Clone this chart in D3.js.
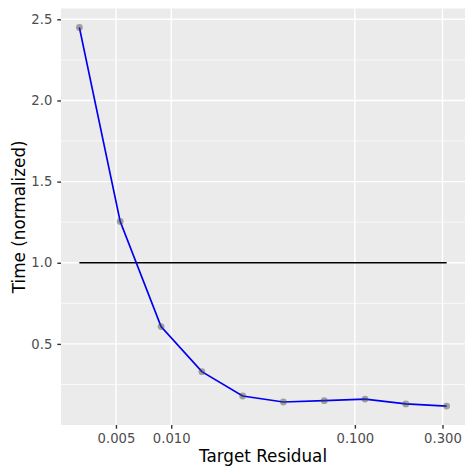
<!DOCTYPE html>
<html><head><meta charset="utf-8">
<script src="https://cdn.jsdelivr.net/npm/d3@7"></script>
<style>body{margin:0;background:#fff}svg{display:block}text{font-family:"DejaVu Sans",sans-serif}</style>
</head><body><svg id="c" width="474" height="474"></svg>
<script>
const residuals = [0.00316, 0.00527, 0.0088, 0.01468, 0.02448, 0.0408, 0.0681, 0.1136, 0.1894, 0.316];
const times = [2.45, 1.255, 0.607, 0.329, 0.179, 0.142, 0.150, 0.160, 0.130, 0.117];
const baseline = [1, 1];
const xTicks = [0.005, 0.010, 0.100, 0.300];
const xTickLabels = ["0.005", "0.010", "0.100", "0.300"];
const yTicks = [0.5, 1.0, 1.5, 2.0, 2.5];
const yMinor = [0.25, 0.75, 1.25, 1.75, 2.25];

const svg = d3.select("#c");
const L = 61, R = 465, T = 8.5, B = 425;
const lx = d3.extent(residuals).map(Math.log10);
const ex = (lx[1]-lx[0])*0.05;
const x = d3.scaleLog().domain([Math.pow(10, lx[0]-ex), Math.pow(10, lx[1]+ex)]).range([L, R]);
const ye = d3.extent(times); const ey = (ye[1]-ye[0])*0.05;
const y = d3.scaleLinear().domain([ye[0]-ey, ye[1]+ey]).range([B, T]);

svg.append("rect").attr("x", L).attr("y", T).attr("width", R-L).attr("height", B-T).attr("fill", "#EBEBEB");
svg.append("g").selectAll("line").data(yMinor).join("line")
  .attr("x1", L).attr("x2", R).attr("y1", d=>y(d)).attr("y2", d=>y(d))
  .attr("stroke", "#fff").attr("stroke-width", 0.7);
svg.append("g").selectAll("line").data(yTicks).join("line")
  .attr("x1", L).attr("x2", R).attr("y1", d=>y(d)).attr("y2", d=>y(d))
  .attr("stroke", "#fff").attr("stroke-width", 1.4);
svg.append("g").selectAll("line").data(xTicks).join("line")
  .attr("y1", T).attr("y2", B).attr("x1", d=>x(d)).attr("x2", d=>x(d))
  .attr("stroke", "#fff").attr("stroke-width", 1.4);

// axes
const xAxis = d3.axisBottom(x).tickValues(xTicks).tickFormat((d,i)=>xTickLabels[i]).tickSize(3.7).tickPadding(5);
const gx = svg.append("g").attr("transform", `translate(0,${B})`).call(xAxis);
const yAxis = d3.axisLeft(y).tickValues(yTicks).tickFormat(d3.format(".1f")).tickSize(3.7).tickPadding(5);
const gy = svg.append("g").attr("transform", `translate(${L},0)`).call(yAxis);
[gx, gy].forEach(g => {
  g.select(".domain").remove();
  g.selectAll(".tick line").attr("stroke", "#333").attr("stroke-width", 1.4);
  g.selectAll(".tick text").attr("fill", "#4D4D4D").attr("font-size", 13.2).attr("font-family", "DejaVu Sans");
});

// reference line
svg.append("path").datum(baseline.map((v,i)=>[d3.extent(residuals)[i], v]))
  .attr("d", d3.line().x(d=>x(d[0])).y(d=>y(d[1])))
  .attr("fill", "none").attr("stroke", "#000").attr("stroke-width", 1.6);

// series line
svg.append("path").datum(residuals.map((r,i)=>[r, times[i]]))
  .attr("d", d3.line().x(d=>x(d[0])).y(d=>y(d[1])))
  .attr("fill", "none").attr("stroke", "#0000F0").attr("stroke-width", 1.7);

svg.append("g").selectAll("circle").data(residuals).join("circle")
  .attr("cx", d=>x(d)).attr("cy", (d,i)=>y(times[i])).attr("r", 3.4)
  .attr("fill", "#444").attr("fill-opacity", 0.45);

svg.append("text").attr("x", (L+R)/2).attr("y", 462).attr("text-anchor", "middle")
  .attr("font-size", 16.8).attr("fill", "#000").text("Target Residual");
svg.append("text").attr("transform", `translate(25,${(T+B)/2}) rotate(-90)`).attr("text-anchor", "middle")
  .attr("font-size", 16.8).attr("fill", "#000").text("Time (normalized)");
</script></body></html>
